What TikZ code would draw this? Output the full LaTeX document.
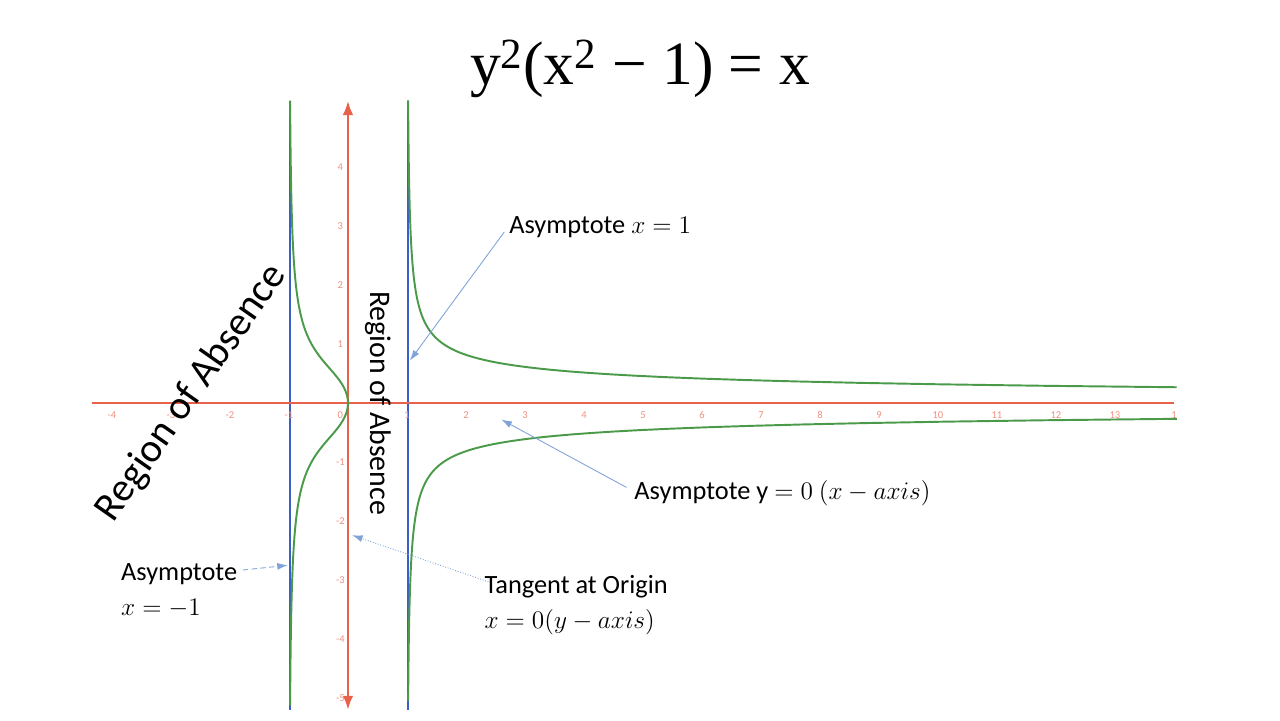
\documentclass[tikz,border=0pt]{standalone}
\usepackage{fontspec}
\setmainfont{Carlito}
\newfontfamily\titlefont{Liberation Serif}
\usetikzlibrary{arrows.meta}
\definecolor{axred}{HTML}{E8614A}
\definecolor{asblue}{HTML}{3A5FC8}
\definecolor{cvgreen}{HTML}{4A9A4A}
\definecolor{ptblue}{HTML}{7FA3D8}
\begin{document}
\begin{tikzpicture}[x=1.18cm,y=1.18cm,
  axisline/.style={draw=axred, line width=1.2pt},
  asym/.style={draw=asblue, line width=1pt},
  curve/.style={draw=cvgreen, line width=1.1pt},
  tick/.style={text=axred!70!white, font=\fontsize{6}{7}\selectfont, inner sep=0pt},
  ann/.style={font=\fontsize{15}{18}\selectfont, align=left, inner sep=1pt},
  pointer/.style={draw=ptblue, line width=0.5pt, -{Latex[length=6pt,width=4pt]}}]
\useasboundingbox (-5.898,-5.373) rectangle (15.797,6.831);
% title
\node (title) at (4.95,5.66) {\titlefont\fontsize{35}{40}\selectfont y\textsuperscript{2}(x\textsuperscript{2} − 1) = x};
% asymptotes
\draw[asym] (-0.983,5.12) -- (-0.983,-5.2);
\draw[asym] (1.017,5.12) -- (1.017,-5.2);
% axes
\draw[axisline] (-4.34,0) -- (14.0,0);
\draw[axisline, {Latex[length=8pt,width=6pt]}-{Latex[length=8pt,width=6pt]}] (0,5.12) -- (0,-5.2);
% ticks
\foreach \k in {-4,-3,-2,-1,1,2,...,13} \node[tick] at (\k,-0.2) {\k};
\node[tick] at (14,-0.2) {1};
\node[tick] at (-0.13,-0.2) {0};
\foreach \k in {-5,-4,-3,-2,-1,1,2,3,4} \node[tick] at (-0.13,\k) {\k};
% curves
\draw[curve] plot[domain=-5.13:5.13, samples=200, variable=\t] ({-2*\t*\t/(1+sqrt(1+4*\t*\t*\t*\t))},{\t});
\draw[curve] plot[domain=0.2675:5.13, samples=200, variable=\t] ({(1+sqrt(1+4*\t*\t*\t*\t))/(2*\t*\t)},{\t});
\draw[curve] plot[domain=-0.2675:-5.05, samples=200, variable=\t] ({(1+sqrt(1+4*\t*\t*\t*\t))/(2*\t*\t)},{\t});
% region labels
\node[rotate=55, font=\fontsize{23}{27}\selectfont] (ra) at (-2.65,0.17) {Region of Absence};
\node[rotate=-90, font=\fontsize{17}{20}\selectfont] (rb) at (0.51,0) {Region of Absence};
% annotations
\node[ann, anchor=west] (a1) at (2.7,2.98) {Asymptote $x=1$};
\node[ann, anchor=west] (a2) at (4.82,-1.53) {Asymptote y $=0$ $(x-axis)$};
\node[ann, anchor=north west] (a3) at (-3.88,-2.68) {Asymptote\\[2pt] $x=-1$};
\node[ann, anchor=north west] (a4) at (2.28,-2.88) {Tangent at Origin\\[2pt] $x=0(y-axis)$};
\coordinate (p1) at (1.05,0.72);
\coordinate (p2) at (2.6,-0.28);
\coordinate (p3) at (-1.02,-2.75);
\coordinate (p4) at (0.07,-2.24);
\coordinate (s3) at (-1.78,-2.83);
\draw[pointer] (a1.west) ++(-0.05,-0.08) -- (p1);
\draw[pointer] (a2.west) ++(-0.1,0.1) -- (p2);
\draw[pointer, densely dashed] (s3) -- (p3);
\draw[pointer, densely dotted] (a4.north west) ++(0.1,-0.15) -- (p4);
\end{tikzpicture}
\end{document}
